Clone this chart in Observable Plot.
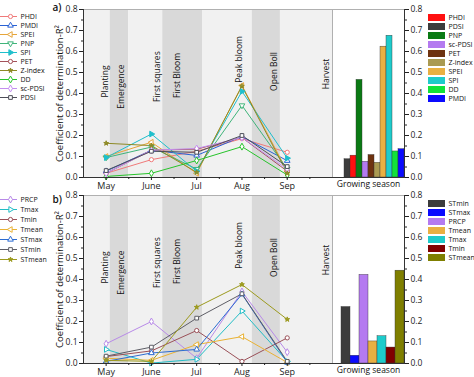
<!DOCTYPE html>
<html><head><meta charset="utf-8">
<script src="https://cdn.jsdelivr.net/npm/d3@7"></script>
<script src="https://cdn.jsdelivr.net/npm/@observablehq/plot@0.6"></script>
<style>
body{margin:0;background:#fff;}
#chart{position:relative;width:474px;height:377px;overflow:hidden;font-family:"Open Sans",sans-serif;}
#chart svg{position:absolute;left:0;top:0;}
</style></head><body><div id="chart"></div>
<script>
// ---------- data ----------
const months = [5, 6, 7, 8, 9];
const monthLabels = ["May", "June", "Jul", "Aug", "Sep"];
const yTicks = [0, 0.1, 0.2, 0.3, 0.4, 0.5, 0.6, 0.7, 0.8];

const phaseNames = ["Planting", "Emergence", "First squares", "First Bloom", "Peak bloom", "Open Boll", "Harvest"];
const phaseStart = [4.5, 5.09, 5.5, 6.25, 7.13, 8.23, 8.85];
const phaseEnd   = [5.09, 5.5, 6.25, 7.13, 8.23, 8.85, 10];

// panel a – drought indices, R² by month
const seriesA = ["PHDI", "PMDI", "SPEI", "PNP", "SPI", "PET", "Z-index", "DD", "sc-PDSI", "PDSI"];
const aPHDI   = [0.020, 0.085, 0.125, 0.185, 0.120];
const aPMDI   = [0.030, 0.130, 0.105, 0.195, 0.080];
const aSPEI   = [0.100, 0.168, 0.020, 0.438, 0.030];
const aPNP    = [0.095, 0.145, 0.040, 0.343, 0.040];
const aSPI    = [0.095, 0.207, 0.030, 0.410, 0.092];
const aPET    = [0.020, 0.130, 0.135, 0.190, 0.030];
const aZindex = [0.163, 0.152, 0.025, 0.435, 0.020];
const aDD     = [0.005, 0.020, 0.081, 0.147, 0.012];
const aScPDSI = [0.020, 0.130, 0.138, 0.190, 0.040];
const aPDSI   = [0.033, 0.125, 0.120, 0.200, 0.052];
const valuesA = [aPHDI, aPMDI, aSPEI, aPNP, aSPI, aPET, aZindex, aDD, aScPDSI, aPDSI];

// panel a – growing season bars
const barNamesA  = ["PDSI", "PHDI", "PNP", "sc-PDSI", "PET", "Z-index", "SPEI", "SPI", "DD", "PMDI"];
const barValuesA = [0.087, 0.104, 0.465, 0.075, 0.107, 0.070, 0.623, 0.675, 0.124, 0.135];
const barLegendA = ["PHDI", "PDSI", "PNP", "sc-PDSI", "PET", "Z-index", "SPEI", "SPI", "DD", "PMDI"];

// panel b – temperature / precipitation, R² by month
const seriesB = ["PRCP", "Tmax", "Tmin", "Tmean", "STmax", "STmin", "STmean"];
const bPRCP   = [0.094, 0.200, 0.025, 0.343, 0.054];
const bTmax   = [0.067, 0.002, 0.020, 0.250, 0.010];
const bTmin   = [0.033, 0.060, 0.157, 0.010, 0.122];
const bTmean  = [0.025, 0.015, 0.090, 0.128, 0.005];
const bSTmax  = [0.010, 0.050, 0.067, 0.330, 0.005];
const bSTmin  = [0.035, 0.078, 0.216, 0.332, 0.010];
const bSTmean = [0.015, 0.010, 0.268, 0.376, 0.210];
const valuesB = [bPRCP, bTmax, bTmin, bTmean, bSTmax, bSTmin, bSTmean];

// panel b – growing season bars
const barNamesB  = ["STmin", "STmax", "PRCP", "Tmean", "Tmax", "Tmin", "STmean"];
const barValuesB = [0.269, 0.037, 0.422, 0.105, 0.130, 0.076, 0.442];

// ---------- styles ----------
function tri(angle) {
  return {draw(ctx, size) {
    const R = Math.sqrt(size * 4 / (3 * Math.sqrt(3)));
    for (let k = 0; k < 3; k++) {
      const a = (angle + k * 120) * Math.PI / 180;
      const x = R * Math.cos(a), y = R * Math.sin(a);
      k ? ctx.lineTo(x, y) : ctx.moveTo(x, y);
    }
    ctx.closePath();
  }};
}
const UP = tri(-90), DOWN = tri(90), LEFT = tri(180), RIGHT = tri(0);

const lineStyle = {
  "PHDI":    {c: "#f07a7a", s: "circle"},
  "PMDI":    {c: "#2a62d4", s: UP},
  "SPEI":    {c: "#e6a53a", s: LEFT},
  "PNP":     {c: "#3fb47a", s: DOWN},
  "SPI":     {c: "#1fbfcc", s: RIGHT, filled: true},
  "PET":     {c: "#a4525a", s: "circle"},
  "Z-index": {c: "#8e8a26", s: "star", filled: true},
  "DD":      {c: "#27c42b", s: "diamond"},
  "sc-PDSI": {c: "#c48ef0", s: "diamond"},
  "PDSI":    {c: "#4e4e58", s: "square"},
  "PRCP":    {c: "#b88ae8", s: "diamond"},
  "Tmax":    {c: "#22bdc6", s: RIGHT},
  "Tmin":    {c: "#9a5058", s: "circle"},
  "Tmean":   {c: "#e9b234", s: LEFT},
  "STmax":   {c: "#2c6cd2", s: UP},
  "STmin":   {c: "#5e5e66", s: "square"},
  "STmean":  {c: "#9c9a1e", s: "star", filled: true}
};
const barColor = {
  "PHDI": "#ff1010", "PDSI": "#3c3c3c", "PNP": "#0a7a14", "sc-PDSI": "#b47af0",
  "PET": "#6e3210", "Z-index": "#aa9a52", "SPEI": "#e9b042", "SPI": "#1ecbcb",
  "DD": "#12e23a", "PMDI": "#0a0aff",
  "STmin": "#3c3c3c", "STmax": "#0a0aff", "PRCP": "#b47af0", "Tmean": "#e9b042",
  "Tmax": "#1ecbcb", "Tmin": "#800000", "STmean": "#7f7f00"
};
const phaseLabelX = [4.97, 5.33, 6.14, 6.58, 7.95, 8.72, 9.86];
const phaseLabelY = [0.457, 0.433, 0.48, 0.486, 0.562, 0.505, 0.493];

const W = 474, H = 377, PLOT_H = 168;
const minorY = d3.range(0.05, 0.8, 0.1);
const fmt = d => d.toFixed(1);
const baseStyle = {background: "none", fontFamily: "Open Sans, sans-serif", fontSize: "9px", color: "#222", overflow: "visible"};
const isStar = s => lineStyle[s].s === "star";

const phases = phaseNames.map((name, i) => ({name, start: phaseStart[i], end: phaseEnd[i], lx: phaseLabelX[i], ly: phaseLabelY[i], dark: i % 2 === 1}));

function tidy(series, values) {
  return series.flatMap((s, i) => months.map((m, j) => ({series: s, month: m, value: values[i][j]})));
}

function markers(data, opts) {
  const common = {strokeWidth: 1,
    symbol: d => lineStyle[d.series].s,
    stroke: d => lineStyle[d.series].c,
    fill: d => lineStyle[d.series].filled ? lineStyle[d.series].c : "white", ...opts};
  return [
    Plot.dot(data.filter(d => !isStar(d.series)), {...common, r: 2.1}),
    Plot.dot(data.filter(d => isStar(d.series)), {...common, r: 1.5})
  ];
}

function linePanel(series, values, top, tag, tagDy) {
  const data = tidy(series, values);
  return Plot.plot({
    width: W, height: H,
    marginLeft: 83, marginRight: W - 332, marginTop: top, marginBottom: H - top - PLOT_H,
    style: baseStyle,
    x: {domain: [4.5, 10], axis: null},
    y: {domain: [0, 0.8], axis: null},
    color: {type: "identity"},
    marks: [
      Plot.rect(phases, {x1: "start", x2: "end", y1: 0, y2: 0.8, fill: d => d.dark ? "#d9d9d9" : "#f1f1f1"}),
      Plot.text(phases, {x: "lx", y: "ly", text: "name", rotate: -90, textAnchor: "middle", lineAnchor: "middle", fontSize: 8.5, fill: "#111"}),
      Plot.frame({stroke: "#b0b0b0"}),
      Plot.line(data, {x: "month", y: "value", z: "series", stroke: d => lineStyle[d.series].c, strokeWidth: 1}),
      ...markers(data, {x: "month", y: "value"}),
      Plot.ruleX([4.5], {stroke: "#333"}),
      Plot.ruleY([0], {stroke: "#333"}),
      Plot.axisY(yTicks, {tickFormat: fmt, tickSize: 4, tickPadding: 2, fontSize: 8.5, label: null}),
      Plot.axisY(minorY, {tickFormat: () => "", tickSize: 2, label: null}),
      Plot.axisX(months, {tickFormat: d => monthLabels[months.indexOf(d)], tickSize: 3, tickPadding: 2, fontSize: 9, label: null}),
      Plot.axisX([5.5, 6.5, 7.5, 8.5, 9.5], {tickFormat: () => "", tickSize: 2, label: null}),
      Plot.text(["Coefficient of determination-R²"], {frameAnchor: "left", dx: -24, rotate: -90, textAnchor: "middle", lineAnchor: "middle", fontSize: 9.5, fill: "#111"}),
      Plot.text([tag], {frameAnchor: "top-left", dx: -31, dy: tagDy, textAnchor: "start", lineAnchor: "middle", fontSize: 10, fontWeight: 600, fill: "#111"})
    ]
  });
}

function barPanel(names, values, top, pad) {
  const data = names.map((n, i) => ({name: n, value: values[i]}));
  return Plot.plot({
    width: W, height: H,
    marginLeft: 332, marginRight: W - 404, marginTop: top, marginBottom: H - top - PLOT_H,
    style: baseStyle,
    x: {domain: names, axis: null, paddingInner: 0, paddingOuter: pad, align: 1},
    y: {domain: [0, 0.8], axis: null},
    color: {type: "identity"},
    marks: [
      Plot.frame({stroke: "#b0b0b0"}),
      Plot.barY(data, {x: "name", y: "value", fill: d => barColor[d.name], stroke: "#333", strokeWidth: 0.4}),
      Plot.frame({anchor: "right", stroke: "#333"}),
      Plot.ruleY([0], {stroke: "#333"}),
      Plot.axisY(yTicks, {anchor: "right", tickFormat: fmt, tickSize: 4, tickPadding: 2, fontSize: 8.5, label: null}),
      Plot.axisY(minorY, {anchor: "right", tickFormat: () => "", tickSize: 2, label: null}),
      Plot.text(["Growing season"], {frameAnchor: "bottom", dy: 9, fontSize: 8.5, fill: "#111"})
    ]
  });
}

function lineLegend(series, top, bottom) {
  const data = series.map(s => ({series: s}));
  return Plot.plot({
    width: W, height: H,
    marginLeft: 0, marginRight: W - 40, marginTop: top, marginBottom: H - bottom,
    style: baseStyle,
    x: {domain: [0, 40], axis: null},
    y: {domain: series, type: "point", padding: 0, axis: null},
    color: {type: "identity"},
    marks: [
      Plot.ruleY(data, {y: "series", x1: 0, x2: 17, stroke: d => lineStyle[d.series].c, strokeWidth: 1}),
      ...markers(data, {y: "series", x: 10}),
      Plot.text(data, {y: "series", x: 20, text: "series", textAnchor: "start", fontSize: 7, fill: "#111"})
    ]
  });
}

function barLegend(names, top, bottom) {
  return Plot.plot({
    width: W, height: H,
    marginLeft: 428, marginRight: 0, marginTop: top, marginBottom: H - bottom,
    style: baseStyle,
    x: {domain: [0, 46], axis: null},
    y: {domain: names, type: "point", padding: 0, axis: null},
    color: {type: "identity"},
    marks: [
      Plot.ruleY(names, {y: d => d, x1: 0, x2: 17, strokeWidth: 7, stroke: d => barColor[d]}),
      Plot.text(names, {y: d => d, x: 20, text: d => d, textAnchor: "start", fontSize: 7, fill: "#111"})
    ]
  });
}

const chart = document.getElementById("chart");
chart.append(
  linePanel(seriesA, valuesA, 9, "a)", -2),
  barPanel(barNamesA, barValuesA, 9, 0.3),
  linePanel(seriesB, valuesB, 195, "b)", 4),
  barPanel(barNamesB, barValuesB, 195, 0.2),
  lineLegend(seriesA, 13, 100),
  lineLegend(seriesB, 198, 260),
  barLegend(barLegendA, 14, 101),
  barLegend(barNamesB, 200, 259)
);
</script></body></html>
